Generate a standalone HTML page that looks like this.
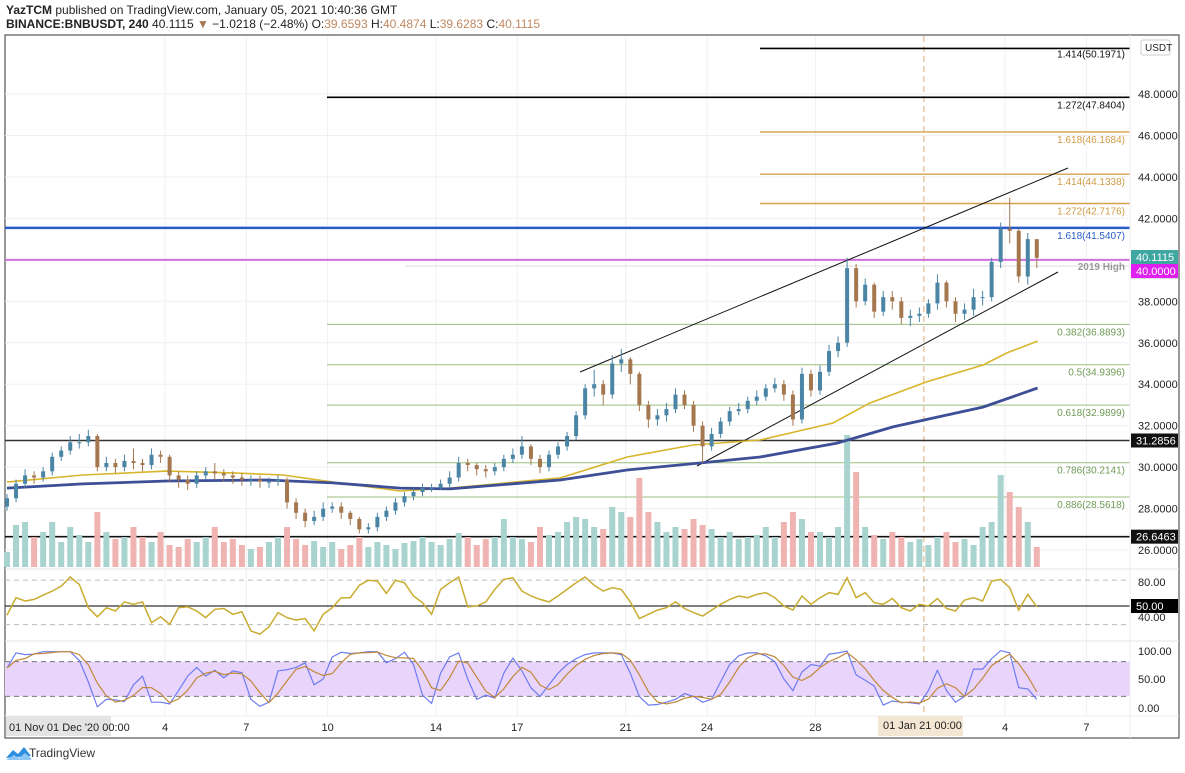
<!DOCTYPE html>
<html><head><meta charset="utf-8"><style>
html,body{margin:0;padding:0;background:#fff;}
body{width:1185px;height:768px;overflow:hidden;font-family:"Liberation Sans",sans-serif;}
svg text{font-family:"Liberation Sans",sans-serif;}
</style></head><body>
<svg id="c" width="1185" height="768" viewBox="0 0 1185 768" xmlns="http://www.w3.org/2000/svg">
<text x="6" y="14" font-size="12" fill="#222"><tspan font-weight="bold">YazTCM</tspan> published on TradingView.com, January 05, 2021 10:40:36 GMT</text>
<text x="6" y="28" font-size="12" fill="#222"><tspan font-weight="bold">BINANCE:BNBUSDT, 240</tspan> 40.1115 <tspan fill="#a5774f">▼</tspan> −1.0218 (−2.48%) O:<tspan fill="#c08860">39.6593</tspan> H:<tspan fill="#c08860">40.4874</tspan> L:<tspan fill="#c08860">39.6283</tspan> C:<tspan fill="#c08860">40.1115</tspan></text>
<rect x="5" y="35" width="1174" height="703" fill="none" stroke="#555" stroke-width="1.2"/>
<g id="grid"></g>
<g id="fib"></g>
<g id="vol"></g>
<g id="ma"></g>
<g id="candles"></g>
<g id="rsi"></g>
<g id="stoch"></g>
<g id="axes"></g>
<g>
<path d="M6 758 l7 -8 l5 4 l6 -7 l7 9 z" fill="#2d8ee0"/>
<path d="M6 760 l8 -5 l5 3 l6 -5 l6 5 v2 z" fill="#8ec7f5"/>
<text x="29" y="757" font-size="12" fill="#333">TradingView</text>
</g>
</svg>
<script>
const closes=[28.5,29.2,29.6,29.5,29.8,30.5,30.8,31.2,31.2,31.5,30.0,30.2,30.0,30.3,30.2,30.1,30.6,30.5,29.6,29.4,29.2,29.6,29.8,29.7,29.6,29.5,29.4,29.4,29.3,29.3,29.4,28.3,27.8,27.4,27.6,28.0,28.1,27.8,27.5,27.0,27.1,27.6,27.9,28.3,28.6,28.8,29.0,29.0,29.2,29.5,30.2,30.1,29.9,29.8,30.0,30.4,30.6,31.0,30.4,30.0,30.6,31.0,31.5,32.5,33.8,34.0,33.5,35.0,35.2,34.5,33.0,32.3,32.5,32.8,33.5,33.0,32.0,31.0,31.6,32.2,32.7,32.8,33.2,33.4,33.8,34.0,33.5,32.3,34.5,33.7,34.6,35.6,36.0,39.6,38.0,38.8,37.5,38.2,38.0,37.2,37.3,37.4,37.9,38.9,38.0,37.4,37.6,38.2,38.2,39.9,41.5,41.4,39.2,41.0,40.1];
const highs=[28.7,29.4,29.9,29.8,30.0,30.7,31.0,31.5,31.6,31.8,31.6,30.5,30.4,30.6,30.9,30.4,30.9,30.8,30.6,29.8,29.6,29.8,30.0,30.2,29.9,29.8,29.7,29.6,29.6,29.5,29.6,29.5,28.5,28.0,27.9,28.3,28.3,28.3,27.9,27.6,27.3,27.8,28.1,28.5,28.8,29.0,29.2,29.2,29.4,29.8,30.5,30.4,30.2,30.1,30.2,30.6,30.9,31.5,31.1,30.6,30.8,31.2,31.7,32.7,34.0,34.7,34.2,35.4,35.7,35.3,34.6,33.2,32.8,33.1,33.8,33.7,33.2,32.2,31.9,32.4,32.9,33.1,33.4,33.7,34.0,34.3,34.2,33.7,34.8,34.7,34.9,35.9,36.3,40.1,39.8,39.1,38.9,38.5,38.5,38.2,37.6,37.7,38.1,39.3,39.0,38.2,37.9,38.6,38.5,40.1,41.8,43.0,41.5,41.3,40.5];
const lows=[27.9,28.3,29.0,29.2,29.3,29.6,30.3,30.6,30.9,31.0,29.8,29.8,29.7,29.8,29.9,29.8,29.9,30.2,29.3,29.0,28.9,29.0,29.4,29.4,29.3,29.2,29.1,29.1,29.0,29.0,29.1,28.0,27.5,27.1,27.2,27.4,27.8,27.5,27.2,26.8,26.8,26.9,27.4,27.7,28.1,28.4,28.6,28.8,28.9,29.0,29.3,29.8,29.6,29.5,29.6,29.8,30.2,30.4,30.1,29.7,29.8,30.4,30.8,31.3,32.3,33.4,33.0,33.3,34.6,34.0,32.7,31.9,32.0,32.2,32.6,32.8,31.7,30.2,30.8,31.4,32.0,32.5,32.6,33.0,33.2,33.6,33.2,32.0,32.1,33.4,33.5,34.4,35.3,35.8,37.7,37.8,37.2,37.3,37.6,36.9,36.8,37.0,37.2,37.6,37.7,37.0,37.1,37.3,37.8,38.0,39.6,40.8,38.9,38.8,39.6];
const firstOpen=28.1;
const volumes=[15,42,45,30,35,45,25,40,32,25,55,35,28,30,40,30,25,35,22,20,28,25,30,40,25,28,22,18,20,25,30,40,28,22,26,20,25,18,22,30,20,25,22,18,24,26,30,25,22,28,34,30,22,28,30,48,30,28,25,40,32,35,45,50,48,40,38,60,55,50,89,55,45,35,40,38,48,42,38,30,35,28,30,32,40,30,45,55,48,35,35,30,40,132,95,40,32,28,35,30,25,28,22,30,35,25,28,22,40,45,92,75,60,45,20];
const rsiVals=[39,60,56,58,63,68,74,85,76,48,37,48,44,55,52,55,30,37,28,48,49,44,36,46,47,40,43,20,16,25,42,36,33,35,20,40,48,60,60,75,81,80,65,81,78,62,54,40,70,78,85,49,50,55,70,82,84,68,62,58,55,62,70,78,85,75,68,72,70,55,35,40,45,48,55,47,42,38,45,52,58,62,60,64,66,60,50,45,62,52,60,66,64,84,60,66,54,52,59,48,44,52,50,59,47,44,57,60,56,80,82,72,45,64,49];
const stochK=[69,95,92,93,97,97,97,97,82,45,2,15,14,11,40,55,10,10,7,30,55,70,55,65,52,64,61,15,3,10,64,66,70,78,40,50,88,96,94,95,97,97,78,85,96,75,22,8,60,88,95,50,15,22,17,60,86,64,35,20,40,60,75,85,92,95,95,95,92,60,20,5,6,10,15,25,20,10,15,45,75,90,95,95,90,80,50,30,62,75,72,93,95,98,57,48,38,5,12,10,9,7,30,65,30,10,20,67,67,85,99,95,35,33,15];
const maFastDays=[-1.83,0.97,4.07,6.51,8.35,10.2,12.67,14.52,18.58,21.05,23.48,25.96,28.65,30.0,32.1,34.2,35.07,36.2];
const maFastVals=[29.28,29.62,29.81,29.72,29.62,29.28,28.85,28.99,29.48,30.49,31.07,31.31,32.13,33.09,34.11,34.93,35.51,36.08];
const maSlowDays=[-1.83,0.97,4.07,7.76,10.2,12.67,14.52,18.58,21.05,23.74,25.96,28.8,30.86,34.2,36.2];
const maSlowVals=[28.99,29.19,29.33,29.38,29.24,28.99,28.95,29.38,29.86,30.2,30.49,31.16,31.94,32.9,33.82];
const priceTicks=[48,46,44,42,40,38,36,34,32,30,28,26];
const timeLabels=["4","7","10","14","17","21","24","28","4","7"];
const timeDays=[4,7,10,14,17,21,24,28,35,38];
const fibLevels=[50.1971,47.8404,46.1684,44.1338,42.7176,41.5407,36.8893,34.9396,32.9899,30.2141,28.5618];
const fibNames=["1.414","1.272","1.618","1.414","1.272","1.618","0.382","0.5","0.618","0.786","0.886"];

const NS="http://www.w3.org/2000/svg";
function mk(parent,tag,attrs,txt){const e=document.createElementNS(NS,tag);for(const k in attrs)e.setAttribute(k,attrs[k]);if(txt!==undefined)e.textContent=txt;document.getElementById(parent).appendChild(e);return e;}
const PL=5,PR=1130;
const y=p=>94+(48-p)*20.73;
const xd=d=>165+(d-4)*27.1;
const xi=i=>xd(-1.83+i/3);
const yR=r=>606-(r-50)*0.83;
const yS=k=>708-k*0.58;
const fmt=v=>v.toFixed(4);

priceTicks.forEach(p=>{const l=mk('grid','line',{x1:PL,x2:PR,y1:y(p),y2:y(p),stroke:'#f0f0f3'});

});
timeDays.forEach(d=>{const l=mk('grid','line',{x1:xd(d),x2:xd(d),y1:36,y2:716,stroke:'#f0f0f3'});

});
const jan=mk('grid','line',{x1:xd(32),x2:xd(32),y1:36,y2:716,stroke:'#e6c9a6','stroke-dasharray':'6,4','stroke-width':1.5});



const fibStart=[760,327,760,760,760,PL,327,327,327,327,327];
const fibColor=['#000','#000','#d4a24c','#d4a24c','#d4a24c','#2a5cc8','#9bbd7f','#9bbd7f','#9bbd7f','#9bbd7f','#9bbd7f'];
const fibTextColor=['#111','#111','#d09a44','#d09a44','#d09a44','#2a5cc8','#6e9b55','#6e9b55','#6e9b55','#6e9b55','#6e9b55'];
fibLevels.forEach((v,i)=>{
 const l=mk('fib','line',{x1:fibStart[i],x2:PR,y1:y(v),y2:y(v),stroke:fibColor[i],'stroke-width':i===5?2.5:(i<2?1.6:(i<5?1.4:1))});
 
 
 const t=mk('fib','text',{x:1125,y:y(v)+(i===0?9:11),'text-anchor':'end','font-size':10,fill:fibTextColor[i]},fibNames[i]+'('+fmt(v)+')');
 
 
});
[[40,'#d070e0',2],[31.2856,'#333',1.5],[26.6463,'#111',1.6]].forEach(a=>{
 const l=mk('fib','line',{x1:PL,x2:PR,y1:y(a[0]),y2:y(a[0]),stroke:a[1],'stroke-width':a[2]});
 
 
});
const hi=mk('fib','line',{x1:405,x2:PR,y1:y(39.7),y2:y(39.7),stroke:'#ddd','stroke-width':1});


const hit=mk('fib','text',{x:1125,y:y(39.7)+4,'text-anchor':'end','font-size':10,'font-weight':'bold',fill:'#999'},'2019 High');



const up=mk('fib','line',{x1:580,y1:372,x2:1068,y2:168,stroke:'#111','stroke-width':1});


const dn=mk('fib','line',{x1:697,y1:466,x2:1058,y2:272,stroke:'#111','stroke-width':1});



const VB=567;
volumes.forEach((v,i)=>{
 const o=i===0?firstOpen:closes[i-1];
 const r=mk('vol','rect',{x:xi(i)-3,y:VB-v,width:6,height:v,fill:closes[i]>=o?'#a9d3cf':'#efb3b1'});
 
 
});

function maPath(days,vals){return days.map((d,i)=>(i?'L':'M')+xd(d).toFixed(1)+' '+y(vals[i]).toFixed(1)).join(' ');}
const m1=mk('ma','path',{d:maPath(maFastDays,maFastVals),fill:'none',stroke:'#d8b52a','stroke-width':1.6});


const m2=mk('ma','path',{d:maPath(maSlowDays,maSlowVals),fill:'none',stroke:'#3d4f96','stroke-width':2.8});



closes.forEach((c,i)=>{
 const o=i===0?firstOpen:closes[i-1];
 const col=c>=o?'#4a85a5':'#a5774f';
 const x=xi(i);
 const w=mk('candles','line',{x1:x,x2:x,y1:y(highs[i]),y2:y(lows[i]),stroke:col,'stroke-width':1});
 
 
 const top=y(Math.max(o,c)),h=Math.max(1,Math.abs(y(o)-y(c)));
 const b=mk('candles','rect',{x:x-2,y:top,width:4,height:h,fill:col});
 
 
});

[569,641].forEach(yy=>{const l=mk('axes','line',{x1:PL,x2:1179,y1:yy,y2:yy,stroke:'#e4e4e8'});

});
const ax=mk('axes','line',{x1:PR,x2:PR,y1:35,y2:738,stroke:'#eee'});



[80,30].forEach(v=>{const l=mk('rsi','line',{x1:PL,x2:PR,y1:yR(v)+(v===80?-1:2),y2:yR(v)+(v===80?-1:2),stroke:'#bbb','stroke-dasharray':'5,4'});

});
const rm=mk('rsi','line',{x1:PL,x2:PR,y1:yR(50),y2:yR(50),stroke:'#333','stroke-width':1.2});


const rp=mk('rsi','path',{d:rsiVals.map((v,i)=>(i?'L':'M')+xi(i).toFixed(1)+' '+yR(v).toFixed(1)).join(' '),fill:'none',stroke:'#c9ac30','stroke-width':1.5});



const band=mk('stoch','rect',{x:PL,y:yS(80),width:PR-PL,height:yS(20)-yS(80),fill:'#e9d4fb'});


[80,20].forEach(v=>{const l=mk('stoch','line',{x1:PL,x2:PR,y1:yS(v),y2:yS(v),stroke:'#777','stroke-dasharray':'5,4'});

});
const stochD=stochK.map((v,i)=>{const s=stochK.slice(Math.max(0,i-2),i+1);return s.reduce((a,b)=>a+b,0)/s.length;});
const sk=mk('stoch','path',{d:stochK.map((v,i)=>(i?'L':'M')+xi(i).toFixed(1)+' '+yS(v).toFixed(1)).join(' '),fill:'none',stroke:'#6e7cf0','stroke-width':1.2});


const sd=mk('stoch','path',{d:stochD.map((v,i)=>(i?'L':'M')+xi(i).toFixed(1)+' '+yS(v).toFixed(1)).join(' '),fill:'none',stroke:'#c2883a','stroke-width':1.2});



priceTicks.forEach(p=>{const t=mk('axes','text',{x:1138,y:y(p)+4,'font-size':11,fill:'#222'},p.toFixed(4));

});
function tag(yy,txt,bg,fg,name){
 const r=mk('axes','rect',{x:1131,y:yy-7,width:47,height:14,fill:bg});
 
 
 const t=mk('axes','text',{x:1136,y:yy+4,'font-size':11,fill:fg},txt);
 
 
}
tag(y(31.2856),'31.2856','#111','#fff','level-tag-31');
tag(y(26.6463),'26.6463','#111','#fff','level-tag-26');
tag(y(39.6178)+4,'39.6178','#d4d4d4','#222','level-tag-39');
tag(257,'40.1115','#3fa6a0','#fff','last-price-tag');
tag(271,'40.0000','#e020f0','#fff','level-tag-40');
const us=mk('axes','rect',{x:1141,y:40,width:29,height:15,fill:'#fff',stroke:'#ccc',rx:2});


const ut=mk('axes','text',{x:1145,y:51,'font-size':10,fill:'#222'},'USDT');


[[80,582],[40,617]].forEach(a=>{const t=mk('axes','text',{x:1138,y:a[1]+4,'font-size':11,fill:'#222'},a[0].toFixed(2));

});
tag(yR(50),'50.00','#000','#fff','rsi-value-tag');
[[100,651],[50,679],[0,708]].forEach(a=>{const t=mk('axes','text',{x:1138,y:a[1]+4,'font-size':11,fill:'#222'},a[0].toFixed(2));

});

const ta=mk('axes','line',{x1:PL,x2:1179,y1:716,y2:716,stroke:'#eee'});


timeLabels.forEach((s,i)=>{const t=mk('axes','text',{x:xd(timeDays[i]),y:731,'text-anchor':'middle','font-size':11,fill:'#222'},s);

});
const b1=mk('axes','rect',{x:6,y:716,width:105,height:20,fill:'#e4e4e4'});


const t1=mk('axes','text',{x:9,y:731,'font-size':11,fill:'#222'},"01 Nov  01 Dec '20   00:00");


const b2=mk('axes','rect',{x:878,y:716,width:85,height:20,fill:'#f3e6d3'});


const t2=mk('axes','text',{x:883,y:729,'font-size':11,fill:'#222'},'01 Jan 21   00:00');


</script>
</body></html>
